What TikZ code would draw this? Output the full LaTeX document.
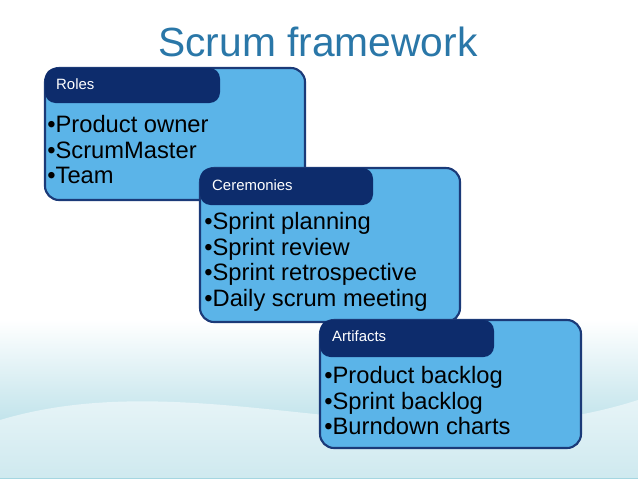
\documentclass[tikz,border=0pt]{standalone}
\usepackage{fontspec}
\setmainfont{Liberation Sans}
\begin{document}
\begin{tikzpicture}[x=0.02cm,y=-0.02cm,
  card/.style={draw=boxline,line width=1.2pt,fill=boxfill,rounded corners=8pt},
  head/.style={fill=headfill,rounded corners=6pt},
  lbl/.style={anchor=west,text=white,font=\fontsize{8.5}{10}\selectfont},
  items/.style={anchor=north west,align=left,font=\fontsize{13.5}{14.6}\selectfont,text=black,inner sep=0pt}]
\definecolor{boxfill}{HTML}{5BB4E8}
\definecolor{boxline}{HTML}{1B3A78}
\definecolor{headfill}{HTML}{0D2C6C}
\definecolor{titlec}{HTML}{2A77A8}
\definecolor{teal}{HTML}{9FD4E0}
\useasboundingbox (0,0) rectangle (638,478);
\fill[white] (0,0) rectangle (638,478);
\shade[top color=white,bottom color=teal] (0,320) rectangle (638,478);
\fill[white,opacity=0.5] (0,420) .. controls (200,360) and (420,470) .. (638,400) -- (638,478) -- (0,478) -- cycle;
\node[text=titlec,font=\fontsize{23.2}{26}\selectfont] (title) at (318,42) {Scrum framework};
% box 1
\draw[card] (45,68) rectangle (305,200);
\fill[head] (45,68) rectangle (220,103);
\node[lbl] (l1) at (50,84) {Roles};
\node[items] (i1) at (47,115) {•Product owner\\•ScrumMaster\\•Team};
% box 2
\draw[card] (200,168) rectangle (460,322);
\fill[head] (200,168) rectangle (373,205);
\node[lbl] (l2) at (206,185) {Ceremonies};
\node[items] (i2) at (204,212) {•Sprint planning\\•Sprint review\\•Sprint retrospective\\•Daily scrum meeting};
% box 3
\draw[card] (320,320) rectangle (581,448);
\fill[head] (320,320) rectangle (494,357);
\node[lbl] (l3) at (326,336) {Artifacts};
\node[items] (i3) at (324,366) {•Product backlog\\•Sprint backlog\\•Burndown charts};
\end{tikzpicture}
\end{document}
